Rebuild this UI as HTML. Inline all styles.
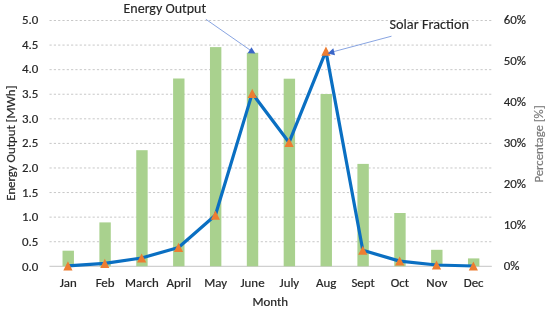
<!DOCTYPE html><html><head><meta charset="utf-8"><style>html,body{margin:0;padding:0;background:#fff;width:550px;height:313px;overflow:hidden}svg{display:block}text{font-family:Carlito,"Liberation Sans",sans-serif;stroke:currentColor;stroke-width:0.2px}</style></head><body>
<svg width="550" height="313" viewBox="0 0 550 313">
<rect width="550" height="313" fill="#fff"/>
<line x1="49.5" y1="241.72" x2="491.8" y2="241.72" stroke="#c8c8c8" stroke-width="1" stroke-dasharray="2.2 2.11"/>
<line x1="49.5" y1="217.14" x2="491.8" y2="217.14" stroke="#c8c8c8" stroke-width="1" stroke-dasharray="2.2 2.11"/>
<line x1="49.5" y1="192.56" x2="491.8" y2="192.56" stroke="#c8c8c8" stroke-width="1" stroke-dasharray="2.2 2.11"/>
<line x1="49.5" y1="167.98" x2="491.8" y2="167.98" stroke="#c8c8c8" stroke-width="1" stroke-dasharray="2.2 2.11"/>
<line x1="49.5" y1="143.40" x2="491.8" y2="143.40" stroke="#c8c8c8" stroke-width="1" stroke-dasharray="2.2 2.11"/>
<line x1="49.5" y1="118.82" x2="491.8" y2="118.82" stroke="#c8c8c8" stroke-width="1" stroke-dasharray="2.2 2.11"/>
<line x1="49.5" y1="94.24" x2="491.8" y2="94.24" stroke="#c8c8c8" stroke-width="1" stroke-dasharray="2.2 2.11"/>
<line x1="49.5" y1="69.66" x2="491.8" y2="69.66" stroke="#c8c8c8" stroke-width="1" stroke-dasharray="2.2 2.11"/>
<line x1="49.5" y1="45.08" x2="491.8" y2="45.08" stroke="#c8c8c8" stroke-width="1" stroke-dasharray="2.2 2.11"/>
<line x1="49.5" y1="20.50" x2="491.8" y2="20.50" stroke="#c8c8c8" stroke-width="1" stroke-dasharray="2.2 2.11"/>
<line x1="49.5" y1="266.3" x2="491.8" y2="266.3" stroke="#d0d0d0" stroke-width="1.2"/>
<rect x="62.53" y="250.70" width="11.4" height="15.60" fill="#a9d18e"/>
<rect x="99.39" y="222.40" width="11.4" height="43.90" fill="#a9d18e"/>
<rect x="136.25" y="150.20" width="11.4" height="116.10" fill="#a9d18e"/>
<rect x="173.10" y="78.50" width="11.4" height="187.80" fill="#a9d18e"/>
<rect x="209.96" y="47.10" width="11.4" height="219.20" fill="#a9d18e"/>
<rect x="246.82" y="52.80" width="11.4" height="213.50" fill="#a9d18e"/>
<rect x="283.68" y="78.70" width="11.4" height="187.60" fill="#a9d18e"/>
<rect x="320.54" y="94.00" width="11.4" height="172.30" fill="#a9d18e"/>
<rect x="357.40" y="163.90" width="11.4" height="102.40" fill="#a9d18e"/>
<rect x="394.25" y="213.00" width="11.4" height="53.30" fill="#a9d18e"/>
<rect x="431.11" y="249.80" width="11.4" height="16.50" fill="#a9d18e"/>
<rect x="467.97" y="258.40" width="11.4" height="7.90" fill="#a9d18e"/>
<polyline points="67.93,265.90 104.79,263.40 141.65,258.00 178.50,247.45 215.36,215.20 252.22,93.40 289.08,142.45 325.94,51.15 362.80,250.30 399.65,261.10 436.51,265.00 473.37,266.00" fill="none" stroke="#0a6fc2" stroke-width="3.2" stroke-linejoin="round" stroke-linecap="round"/>
<polygon points="67.93,261.30 72.53,270.40 63.33,270.40" fill="#ed7d31"/>
<polygon points="104.79,258.80 109.39,267.90 100.19,267.90" fill="#ed7d31"/>
<polygon points="141.65,253.40 146.25,262.50 137.05,262.50" fill="#ed7d31"/>
<polygon points="178.50,242.85 183.10,251.95 173.90,251.95" fill="#ed7d31"/>
<polygon points="215.36,210.60 219.96,219.70 210.76,219.70" fill="#ed7d31"/>
<polygon points="252.22,88.80 256.82,97.90 247.62,97.90" fill="#ed7d31"/>
<polygon points="289.08,137.85 293.68,146.95 284.48,146.95" fill="#ed7d31"/>
<polygon points="325.94,46.55 330.54,55.65 321.34,55.65" fill="#ed7d31"/>
<polygon points="362.80,245.70 367.40,254.80 358.20,254.80" fill="#ed7d31"/>
<polygon points="399.65,256.50 404.25,265.60 395.05,265.60" fill="#ed7d31"/>
<polygon points="436.51,260.40 441.11,269.50 431.91,269.50" fill="#ed7d31"/>
<polygon points="473.37,261.40 477.97,270.50 468.77,270.50" fill="#ed7d31"/>
<line x1="205.9" y1="19.3" x2="250" y2="50" stroke="#7a9ade" stroke-width="0.9"/>
<polygon points="255.4,53.6 251.5,47.2 247.6,53.2" fill="#3a66c8"/>
<line x1="391.5" y1="36.2" x2="333" y2="51.8" stroke="#7a9ade" stroke-width="0.9"/>
<polygon points="327.7,53.6 333.3,48.3 335.0,55.3" fill="#3a66c8"/>
<text textLength="82.66" lengthAdjust="spacingAndGlyphs" x="123.5" y="12.6" font-size="14" fill="#262626" color="#262626" style="stroke-width:0.15px">Energy Output</text>
<text textLength="79.48" lengthAdjust="spacingAndGlyphs" x="389.5" y="28.6" font-size="14" fill="#262626" color="#262626" style="stroke-width:0.15px">Solar Fraction</text>
<text textLength="16.33" lengthAdjust="spacingAndGlyphs" x="38.4" y="270.60" font-size="12.9" fill="#262626" color="#262626" text-anchor="end">0.0</text>
<text textLength="16.33" lengthAdjust="spacingAndGlyphs" x="38.4" y="245.93" font-size="12.9" fill="#262626" color="#262626" text-anchor="end">0.5</text>
<text textLength="16.33" lengthAdjust="spacingAndGlyphs" x="38.4" y="221.26" font-size="12.9" fill="#262626" color="#262626" text-anchor="end">1.0</text>
<text textLength="16.33" lengthAdjust="spacingAndGlyphs" x="38.4" y="196.59" font-size="12.9" fill="#262626" color="#262626" text-anchor="end">1.5</text>
<text textLength="16.33" lengthAdjust="spacingAndGlyphs" x="38.4" y="171.92" font-size="12.9" fill="#262626" color="#262626" text-anchor="end">2.0</text>
<text textLength="16.33" lengthAdjust="spacingAndGlyphs" x="38.4" y="147.25" font-size="12.9" fill="#262626" color="#262626" text-anchor="end">2.5</text>
<text textLength="16.33" lengthAdjust="spacingAndGlyphs" x="38.4" y="122.58" font-size="12.9" fill="#262626" color="#262626" text-anchor="end">3.0</text>
<text textLength="16.33" lengthAdjust="spacingAndGlyphs" x="38.4" y="97.91" font-size="12.9" fill="#262626" color="#262626" text-anchor="end">3.5</text>
<text textLength="16.33" lengthAdjust="spacingAndGlyphs" x="38.4" y="73.24" font-size="12.9" fill="#262626" color="#262626" text-anchor="end">4.0</text>
<text textLength="16.33" lengthAdjust="spacingAndGlyphs" x="38.4" y="48.57" font-size="12.9" fill="#262626" color="#262626" text-anchor="end">4.5</text>
<text textLength="16.33" lengthAdjust="spacingAndGlyphs" x="38.4" y="23.90" font-size="12.9" fill="#262626" color="#262626" text-anchor="end">5.0</text>
<text textLength="15.75" lengthAdjust="spacingAndGlyphs" x="503.7" y="270.30" font-size="12.9" fill="#262626" color="#262626">0%</text>
<text textLength="22.30" lengthAdjust="spacingAndGlyphs" x="503.7" y="229.22" font-size="12.9" fill="#262626" color="#262626">10%</text>
<text textLength="22.30" lengthAdjust="spacingAndGlyphs" x="503.7" y="188.14" font-size="12.9" fill="#262626" color="#262626">20%</text>
<text textLength="22.30" lengthAdjust="spacingAndGlyphs" x="503.7" y="147.06" font-size="12.9" fill="#262626" color="#262626">30%</text>
<text textLength="22.30" lengthAdjust="spacingAndGlyphs" x="503.7" y="105.98" font-size="12.9" fill="#262626" color="#262626">40%</text>
<text textLength="22.30" lengthAdjust="spacingAndGlyphs" x="503.7" y="64.90" font-size="12.9" fill="#262626" color="#262626">50%</text>
<text textLength="22.30" lengthAdjust="spacingAndGlyphs" x="503.7" y="23.82" font-size="12.9" fill="#262626" color="#262626">60%</text>
<text textLength="17.06" lengthAdjust="spacingAndGlyphs" x="68.23" y="287.3" font-size="12.9" fill="#262626" color="#262626" text-anchor="middle">Jan</text>
<text textLength="18.92" lengthAdjust="spacingAndGlyphs" x="105.09" y="287.3" font-size="12.9" fill="#262626" color="#262626" text-anchor="middle">Feb</text>
<text textLength="33.73" lengthAdjust="spacingAndGlyphs" x="141.95" y="287.3" font-size="12.9" fill="#262626" color="#262626" text-anchor="middle">March</text>
<text textLength="24.66" lengthAdjust="spacingAndGlyphs" x="178.80" y="287.3" font-size="12.9" fill="#262626" color="#262626" text-anchor="middle">April</text>
<text textLength="22.80" lengthAdjust="spacingAndGlyphs" x="215.66" y="287.3" font-size="12.9" fill="#262626" color="#262626" text-anchor="middle">May</text>
<text textLength="24.08" lengthAdjust="spacingAndGlyphs" x="252.52" y="287.3" font-size="12.9" fill="#262626" color="#262626" text-anchor="middle">June</text>
<text textLength="19.69" lengthAdjust="spacingAndGlyphs" x="289.38" y="287.3" font-size="12.9" fill="#262626" color="#262626" text-anchor="middle">July</text>
<text textLength="20.31" lengthAdjust="spacingAndGlyphs" x="326.24" y="287.3" font-size="12.9" fill="#262626" color="#262626" text-anchor="middle">Aug</text>
<text textLength="23.38" lengthAdjust="spacingAndGlyphs" x="363.10" y="287.3" font-size="12.9" fill="#262626" color="#262626" text-anchor="middle">Sept</text>
<text textLength="18.31" lengthAdjust="spacingAndGlyphs" x="399.95" y="287.3" font-size="12.9" fill="#262626" color="#262626" text-anchor="middle">Oct</text>
<text textLength="20.89" lengthAdjust="spacingAndGlyphs" x="436.81" y="287.3" font-size="12.9" fill="#262626" color="#262626" text-anchor="middle">Nov</text>
<text textLength="19.80" lengthAdjust="spacingAndGlyphs" x="473.67" y="287.3" font-size="12.9" fill="#262626" color="#262626" text-anchor="middle">Dec</text>
<text textLength="35.56" lengthAdjust="spacingAndGlyphs" x="270.2" y="306" font-size="12.9" fill="#262626" color="#262626" text-anchor="middle">Month</text>
<text textLength="115.34" lengthAdjust="spacingAndGlyphs" transform="translate(15.2,143.2) rotate(-90)" x="0" y="0" font-size="12.8" fill="#262626" color="#262626" text-anchor="middle">Energy Output [MWh]</text>
<text textLength="77.16" lengthAdjust="spacingAndGlyphs" transform="translate(542.6,144.0) rotate(-90)" x="0" y="0" font-size="12.7" fill="#7a7a7a" color="#7a7a7a" text-anchor="middle">Percentage [%]</text>
</svg></body></html>
